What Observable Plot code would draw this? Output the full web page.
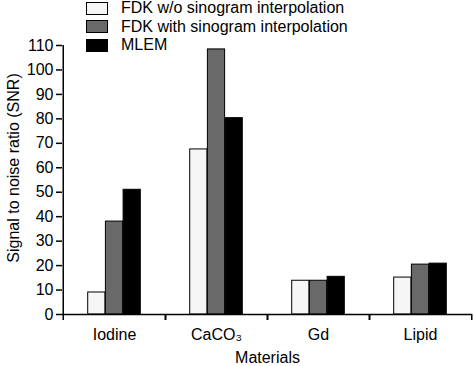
<!DOCTYPE html>
<html>
<head>
<meta charset="utf-8">
<script src="https://cdn.jsdelivr.net/npm/d3@7"></script>
<script src="https://cdn.jsdelivr.net/npm/@observablehq/plot@0.6"></script>
<style>
  html, body { margin: 0; padding: 0; background: white; }
  #wrap { position: relative; width: 474px; height: 366px; font-family: "Liberation Sans", Arial, sans-serif; }
  #legend { position: absolute; left: 86px; top: -1px; font-size: 16px; color: #000; }
  .row { display: flex; align-items: center; height: 18.5px; }
  .sw { width: 20px; height: 11px; border: 1px solid #000; margin-right: 13px; }
</style>
</head>
<body>
<div id="wrap"><div id="legend"></div></div>
<script>
const materials = ["Iodine", "CaCO\u2083", "Gd", "Lipid"];
const seriesNames = ["FDK w/o sinogram interpolation", "FDK with sinogram interpolation", "MLEM"];
const fdkWithout = [9, 67.5, 13.8, 15.1];
const fdkWith = [38, 108.4, 13.8, 20.4];
const mlem = [51, 80.3, 15.4, 20.8];
const seriesColors = ["#f6f6f6", "#696969", "#000000"];
const yTicks = [0, 10, 20, 30, 40, 50, 60, 70, 80, 90, 100, 110];
const xTitle = "Materials";
const yTitle = "Signal to noise ratio (SNR)";

const seriesValues = [fdkWithout, fdkWith, mlem];
const W = 474, H = 366, ML = 62, MR = 2;
const bw = (W - ML - MR) / materials.length;
const barW = 17.7;
const inset = (bw - barW) / 2;

const barMarks = seriesValues.map((vals, j) =>
  Plot.barY(materials.map((m, i) => ({material: m, value: vals[i]})), {
    x: "material", y: "value",
    fill: seriesColors[j], stroke: "black", strokeWidth: 1,
    insetLeft: inset, insetRight: inset, dx: (j - 1) * barW
  })
);

const chart = Plot.plot({
  width: W, height: H,
  marginLeft: ML, marginRight: MR, marginTop: 45, marginBottom: 52,
  style: {fontFamily: "'Liberation Sans', Arial, sans-serif", fontSize: "16px", background: "white", color: "black", overflow: "visible"},
  x: {domain: materials, padding: 0},
  y: {domain: [0, 110]},
  marks: [
    ...barMarks,
    Plot.ruleY([0], {stroke: "black", strokeWidth: 1.5}),
    Plot.ruleX([materials[0]], {dx: -bw / 2, stroke: "black", strokeWidth: 1.5}),
    Plot.axisY({ticks: yTicks, tickSize: 6, tickPadding: 3, label: null, strokeWidth: 1.5}),
    Plot.axisX({tickSize: 0, tickPadding: 14, label: null}),
    Plot.axisX({tickSize: 6, tickFormat: () => "", label: null, dx: -bw / 2, strokeWidth: 1.5}),
    Plot.axisX({tickSize: 6, tickFormat: () => "", label: null, dx: bw / 2, strokeWidth: 1.5}),
    Plot.text([xTitle], {frameAnchor: "bottom", lineAnchor: "middle", textAnchor: "middle", dy: 43, fontSize: 16, fill: "black"}),
    Plot.text([yTitle], {frameAnchor: "left", lineAnchor: "middle", textAnchor: "middle", rotate: -90, dx: -49, dy: -12, fontSize: 16, fill: "black"})
  ]
});
const wrap = document.getElementById("wrap");
wrap.insertBefore(chart, wrap.firstChild);

const legend = document.getElementById("legend");
seriesNames.forEach((name, j) => {
  const row = document.createElement("div");
  row.className = "row";
  const sw = document.createElement("div");
  sw.className = "sw";
  sw.style.background = seriesColors[j];
  const t = document.createElement("span");
  t.textContent = name;
  row.appendChild(sw);
  row.appendChild(t);
  legend.appendChild(row);
});
</script>
</body>
</html>
